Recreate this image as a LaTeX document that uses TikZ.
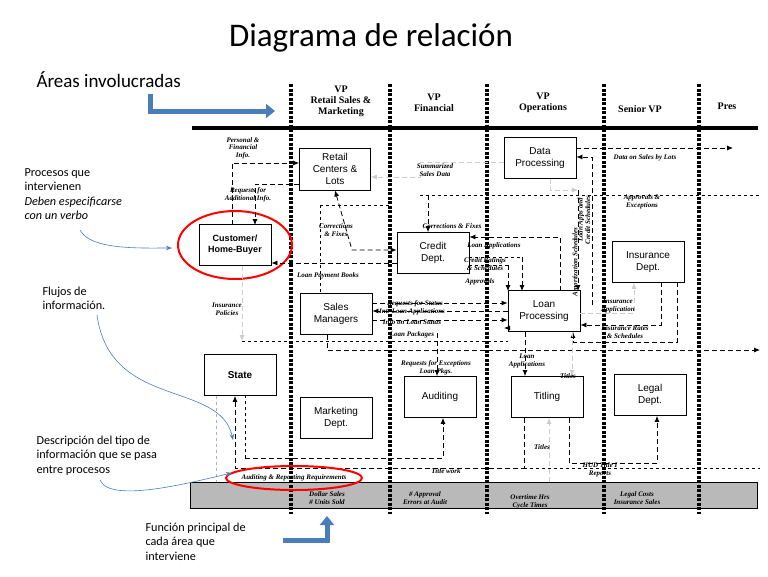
\documentclass[tikz,border=0pt]{standalone}
\usepackage{fontspec}
\setmainfont{Liberation Serif}
\newfontfamily\boxfont{Liberation Sans}
\newfontfamily\notefont{Carlito}
\usetikzlibrary{arrows.meta}
\definecolor{steel}{RGB}{74,126,187}
\tikzset{
  box/.style={draw, thick, minimum width=72pt, minimum height=41pt, align=center, font=\boxfont\fontsize{10}{12}\selectfont},
  flow/.style={dashed, thick, dash pattern=on 5pt off 3pt, -{Latex[length=6pt,width=5pt]}},
  pale/.style={flow, gray!40},
  lbl/.style={font=\bfseries\itshape\fontsize{7}{7.5}\selectfont, align=center, inner sep=0pt},
  head/.style={font=\bfseries\fontsize{10}{11}\selectfont, align=center},
  lane/.style={line width=3.5pt, dash pattern=on 3pt off 1.5pt},
  note/.style={font=\notefont\fontsize{12.2}{14.5}\selectfont, align=left, anchor=north west},
  hint/.style={steel, semithick, -{Stealth[length=6pt]}},
  bigarrow/.style={line width=5pt, draw=steel, -{Triangle[length=9pt,width=14pt]}}
}
\begin{document}
\begin{tikzpicture}[x=1pt,y=-1pt]
\useasboundingbox (0,0) rectangle (768,576);
\node[font=\notefont\fontsize{33}{36}\selectfont] (title) at (371,38) {Diagrama de relación};
\node[font=\notefont\fontsize{19}{22}\selectfont, anchor=west] (areas) at (33,80) {Áreas involucradas};
\draw[bigarrow] (150,94) -- (150,111) -- (275,111);
\draw[bigarrow] (283,540) -- (327,540) -- (327,516);
% swim lanes
\fill[gray!55] (190,482) rectangle (757,508);
\draw[thick] (190,482) rectangle (757,508);
\draw[line width=3.5pt] (192,128) -- (758,128);
\foreach \x in {291,390,487,604,699} \draw[lane] (\x,84) -- (\x,514);
\node[head] (h1) at (341,101) {VP\\Retail Sales \&\\Marketing};
\node[head] (h2) at (434,103) {VP\\Financial};
\node[head] (h3) at (543,103) {VP\\Operations};
\node[head] (h4) at (640,109) {Senior VP};
\node[head] (h5) at (727,106) {Pres};
% processes
\node[box, minimum width=71pt, minimum height=42pt] (retail) at (335,169) {Retail\\Centers \&\\Lots};
\node[box, font=\boxfont\bfseries\fontsize{9}{11}\selectfont] (cust) at (235,245) {Customer/\\Home-Buyer};
\node[box] (credit) at (433,253) {Credit\\Dept.};
\node[box] (dp) at (540,158) {Data\\Processing};
\node[box] (ins) at (648,262) {Insurance\\Dept.};
\node[box] (sales) at (336,314) {Sales\\Managers};
\node[box] (loan) at (544,311) {Loan\\Processing};
\node[box, font=\boxfont\bfseries\fontsize{10}{12}\selectfont] (state) at (240,375) {State};
\node[box] (mkt) at (336,418) {Marketing\\Dept.};
\node[box] (audit) at (440,397) {Auditing};
\node[box] (title2) at (547,397) {Titling};
\node[box] (legal) at (650,395) {Legal\\Dept.};
\draw[red, line width=2pt] (cust.center) ellipse (57pt and 34pt);
% flows
\draw[flow] (232,225) -- (232,163) -- (retail.west |- 0,163);
\node[lbl] (l1) at (243,148) {Personal \&\\Financial\\Info.};
\draw[flow] (retail.west |- 0,184) -- (255,184) -- (255,225);
\node[lbl] (l2) at (248,195) {Requests for\\Additional Info.};
\draw[pale] (dp.west |- 0,162) -- (420,162) -- (420,177) -- (retail.east |- 0,177);
\node[lbl, fill=white] (l3) at (435,170) {Summarized\\Sales Data};
\draw[flow, {Latex[length=6pt,width=5pt]}-{Latex[length=6pt,width=5pt]}] (retail.south) -- (352,250) -- (credit.west |- 0,250);
\draw[dashed, thick] (320,205) -- (390,205);
\draw[dashed, thick] (320,205) -- (320,294);
\node[lbl] (l4) at (336,230) {Corrections\\\& Fixes};
\draw[flow] (credit.west |- 0,263) -- (cust.east |- 0,263);
\node[lbl] (l5) at (328,276) {Loan Payment Books};
\draw[dashed, thick] (420,195) -- (760,195);
\draw[flow] (428,195) -- (credit.north -| 428,0);
\node[lbl] (l6) at (452,226) {Corrections \& Fixes};
\node[lbl] (l7) at (642,202) {Approvals \&\\Exceptions};
\draw[flow] (560,291) -- (560,237) -- (credit.east |- 0,237);
\node[lbl] (l8) at (494,246) {Loan Applications};
\draw[dashed, thick] (credit.east |- 0,257) -- (522,257);
\draw[flow] (522,257) -- (522,291);
\draw[flow] (508,265) -- (508,291);
\draw[dashed, thick] (credit.east |- 0,265) -- (508,265);
\node[lbl] (l9) at (485,264) {Credit Ratings\\\& Schedules};
\node[lbl] (l10) at (480,282) {Approvals};
\draw[flow] (dp.east |- 0,148) -- (733,148);
\draw[flow] (592,305) -- (592,157) -- (dp.east |- 0,157);
\node[lbl, fill=white] (l11) at (645,158) {Data on Sales by Lots};
\node[lbl, rotate=90] (l12) at (584,220) {Loan Apps and\\Credit Schedules};
\draw[pale] (dp.south -| 550,0) -- (550,190) -- (578,190);
\draw[flow] (578,190) -- (578,291);
\node[lbl, rotate=90] (l13) at (575,262) {Amortization Schedules};
\draw[pale] (loan.east |- 0,313) -- (634,313) -- (ins.south -| 634,0);
\node[lbl] (l14) at (618,306) {Insurance\\Application};
\draw[flow] (661,282) -- (661,325) -- (loan.east |- 0,325);
\node[lbl] (l15) at (625,332) {Insurance Rates\\\& Schedules};
\draw[flow] (677,282) -- (677,342) -- (573,342) -- (loan.south -| 573,0);
\draw[flow] (sales.east |- 0,303) -- (loan.west |- 0,303);
\draw[flow] (loan.west |- 0,311) -- (sales.east |- 0,311);
\draw[flow] (sales.east |- 0,320) -- (loan.west |- 0,320);
\draw[flow] (loan.west |- 0,328) -- (504,328);
\node[lbl] (l16) at (415,304) {Requests for Status};
\node[lbl] (l17) at (412,312) {Int. Loan Applications};
\node[lbl] (l18) at (412,323) {Info on Loan Status};
\node[lbl] (l19) at (412,335) {Loan Packages};
\draw[pale] (cust.south -| 242,0) -- (242,341);
\draw[dashed, thick] (242,341) -- (508,341);
\node[lbl] (l20) at (227,309) {Insurance\\Policies};
\draw[flow] (sales.south -| 327,0) -- (327,350) -- (760,350);
\draw[flow] (437,333) -- (audit.north -| 437,0);
\node[lbl] (l21) at (436,368) {Requests for Exceptions\\Loan Pkgs.};
\draw[flow] (loan.south -| 525,0) -- (title2.north -| 525,0);
\node[lbl] (l22) at (527,361) {Loan\\Applications};
\draw[pale] (loan.south -| 572,0) -- (572,376);
\node[lbl] (l23) at (568,376) {Titles};
\draw[flow] (245,458) -- (443,458) -- (audit.south -| 443,0);
\draw[dashed, thick] (245,458) -- (245,395);
\draw[flow] (title2.south -| 524,0) -- (524,468) -- (235,468) -- (state.south -| 235,0);
\draw[dashed, thick] (524,468) -- (760,468);
\node[lbl] (l24) at (446,471) {Title work};
\draw[gray!60, dashed] (state.south -| 216,0) -- (216,482);
\draw[pale] (549,482) -- (title2.south -| 549,0);
\node[lbl] (l25) at (542,447) {Titles};
\draw[flow] (title2.south -| 569,0) -- (569,463) -- (657,463) -- (legal.south -| 657,0);
\node[lbl] (l26) at (600,470) {HUD Title I\\Reports};
\node[lbl] (l27) at (294,478) {Auditing \& Reporting Requirements};
\draw[red, line width=2pt] (l27) ellipse (68pt and 12pt);
\node[lbl] (b1) at (327,498) {Dollar Sales\\\# Units Sold};
\node[lbl] (b2) at (425,498) {\# Approval\\Errors at Audit};
\node[lbl] (b3) at (530,502) {Overtime Hrs\\Cycle Times};
\node[lbl] (b4) at (637,498) {Legal Costs\\Insurance Sales};
% notes
\node[note] (n1) at (21,165) {Procesos que\\intervienen\\\textit{Deben especificarse}\\\textit{con un verbo}};
\node[note] (n2) at (39,283) {Flujos de\\información.};
\node[note] (n3) at (33,432) {Descripción del tipo de\\información que se pasa\\entre procesos};
\node[note] (n4) at (142,519) {Función principal de\\cada área que\\interviene};
\draw[hint] (80,230) .. controls (90,250) and (140,248) .. (172,248);
\draw[hint] (97,315) .. controls (110,410) and (220,380) .. (233,440);
\draw[hint] (100,480) .. controls (110,505) and (200,480) .. (232,473);
\end{tikzpicture}
\end{document}
